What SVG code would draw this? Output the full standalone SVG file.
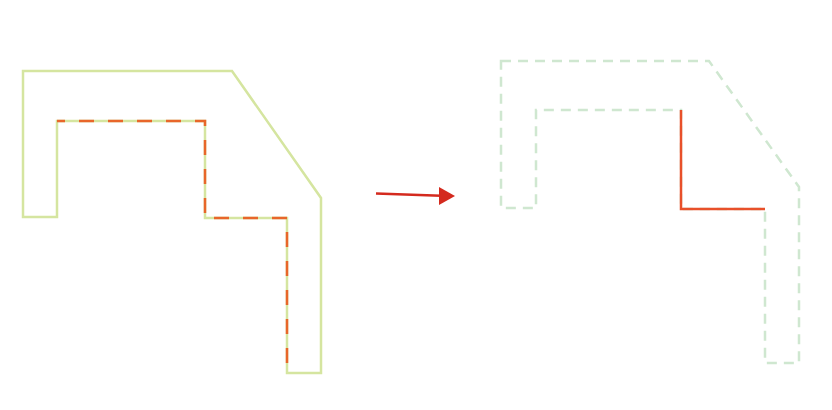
<svg xmlns="http://www.w3.org/2000/svg" width="832" height="410" viewBox="0 0 832 410">
<style>
.outline{fill:none;stroke:#d5e5a0;stroke-width:2.5}
.hl{fill:none;stroke:#e8662a;stroke-width:2.5;stroke-dasharray:15 14;stroke-dashoffset:7}
.ghost{fill:none;stroke:#cfe7d0;stroke-width:2.5;stroke-dasharray:10 7}
.cut{fill:none;stroke:#e8502a;stroke-width:2.5}
</style>
<g id="before">
<polygon class="outline" points="23,71 232,71 321,198 321,373 287,373 287,218 205,218 205,121 57,121 57,217 23,217"/>
<polyline class="hl" points="57,121 205,121 205,218 287,218 287,373"/>
</g>
<g id="connectors">
<line x1="376" y1="193.5" x2="441" y2="195.7" stroke="#d42a1e" stroke-width="2.5"/>
<polygon points="439,187 455,196 439,205" fill="#d42a1e"/>
</g>
<g id="after">
<polygon class="ghost" points="501,61 709,61 799,187 799,363 765,363 765,209 681,209 681,110 536,110 536,208 501,208"/>
<polyline class="cut" points="681,110 681,209 765,209"/>
</g>
</svg>
